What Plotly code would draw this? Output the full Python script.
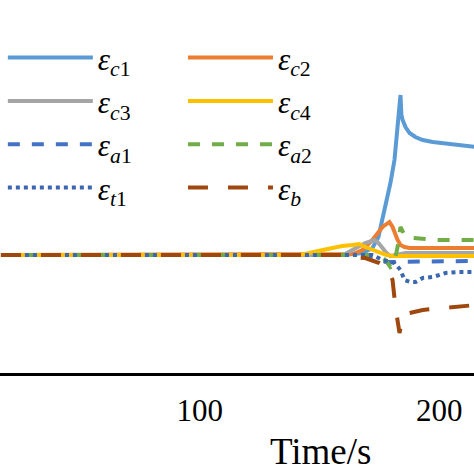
import plotly.graph_objects as go

# Time (s) and strain values (arbitrary units, baseline 0)
t_c1 = [17, 160, 168, 172.1, 174.6, 176.3, 178.0, 179.6, 181.3, 182.6, 183.4, 183.8, 184.2, 184.7, 185.9, 187.6, 190, 193.1, 197.3, 201.5, 207.8, 215.3]
y_c1 = [0, 0, 2, 7, 18, 35, 55, 72, 95, 125, 150, 160, 140, 135, 128, 122, 118, 115, 113, 112, 110, 108]

t_c2 = [17, 160, 164, 167.9, 172.1, 176.3, 178.4, 179.2, 180.5, 181.7, 182.6, 183.8, 185.5, 187.6, 200, 215.3]
y_c2 = [0, 0, 1, 5, 15, 28, 32, 33, 28, 20, 15, 10, 8, 7, 7, 7]

t_c3 = [17, 160, 163.7, 169.1, 172.9, 174.6, 176.3, 178.0, 179.6, 182, 186, 215.3]
y_c3 = [0, 0, 5, 12, 15, 12, 7, 2, -1, 0, 2, 2]

t_c4 = [17, 142, 149.4, 155.3, 159.5, 163.7, 166.6, 169.1, 172.1, 175, 178, 180.5, 185, 215.3]
y_c4 = [0, 0, 4, 7, 9, 10, 11, 8, 5, 2, 0, -1, -1, -1]

t_a1 = [17, 168, 172.1, 175, 177.5, 181, 183.4, 186, 215.3]
y_a1 = [0, 0, -2, -4, -7, -7, -7, -6, -6]

t_t1 = [17, 172, 176.3, 181.3, 183.8, 185.5, 188, 190.1, 193.1, 197.3, 202.7, 208, 215.3]
y_t1 = [0, 0, -5, -8, -15, -25, -27, -27, -23, -22, -18, -17, -17]

t_a2 = [17, 175, 177.5, 179.6, 181, 182.6, 183.8, 185.5, 188.9, 200, 215.3]
y_a2 = [0, 0, -5, -12, -10, 8, 28, 20, 17, 15, 15]

t_b = [17, 160, 163.7, 169.1, 175, 178.4, 180.5, 181.7, 183.4, 184.2, 184.7, 187.6, 193.1, 201.5, 215.3]
y_b = [0, 0, -2, -3, -8, -13, -25, -52, -78, -70, -62, -58, -55, -53, -50]

x_ticks = [100, 200]

LBL = {
    "c1": "<i>ε</i><sub><i>c</i>1</sub>",
    "c2": "<i>ε</i><sub><i>c</i>2</sub>",
    "c3": "<i>ε</i><sub><i>c</i>3</sub>",
    "c4": "<i>ε</i><sub><i>c</i>4</sub>",
    "a1": "<i>ε</i><sub><i>a</i>1</sub>",
    "a2": "<i>ε</i><sub><i>a</i>2</sub>",
    "t1": "<i>ε</i><sub><i>t</i>1</sub>",
    "b": "<i>ε</i><sub><i>b</i></sub>",
}

fig = go.Figure()
series = [
    ("c1", t_c1, y_c1, "#5B9BD5", "solid", "legend"),
    ("c2", t_c2, y_c2, "#ED7D31", "solid", "legend2"),
    ("c3", t_c3, y_c3, "#A5A5A5", "solid", "legend"),
    ("c4", t_c4, y_c4, "#FFC000", "solid", "legend2"),
    ("a1", t_a1, y_a1, "#4472C4", "dash", "legend"),
    ("a2", t_a2, y_a2, "#70AD47", "dash", "legend2"),
    ("t1", t_t1, y_t1, "#3A67B0", "dot", "legend"),
    ("b", t_b, y_b, "#9E480E", "longdash", "legend2"),
]
rank = {"c1": 1, "c3": 2, "a1": 3, "t1": 4, "c2": 1, "c4": 2, "a2": 3, "b": 4}
for key, tx, yy, col, dash, lg in series:
    fig.add_trace(go.Scatter(
        x=tx, y=yy, mode="lines", name=LBL[key],
        line=dict(color=col, width=4, dash=dash),
        legend=lg, legendrank=rank[key],
    ))

legend_common = dict(
    font=dict(family="Liberation Serif", size=31, color="black"),
    bgcolor="rgba(0,0,0,0)", itemwidth=85, tracegroupgap=0,
    traceorder="normal", yanchor="top", xanchor="left", valign="bottom",
)
fig.update_layout(
    width=474, height=474,
    margin=dict(l=0, r=0, t=0, b=101),
    paper_bgcolor="white", plot_bgcolor="white",
    legend=dict(x=0.006, y=0.917, **legend_common),
    legend2=dict(x=0.386, y=0.917, **legend_common),
    xaxis=dict(
        range=[16.6, 214.5], tickvals=x_ticks, ticks="",
        showgrid=False, zeroline=False, showline=True,
        linecolor="black", linewidth=3,
        tickfont=dict(family="Liberation Serif", size=31, color="black"),
        ticklabelstandoff=8,
    ),
    yaxis=dict(range=[-118, 255], visible=False, showgrid=False, zeroline=False),
    annotations=[dict(
        text="Time/s", xref="paper", yref="paper", x=320 / 474, y=-101 / 373,
        xanchor="center", yanchor="bottom", showarrow=False,
        font=dict(family="Liberation Serif", size=37, color="black"),
    )],
)
fig.write_html("out.html")
